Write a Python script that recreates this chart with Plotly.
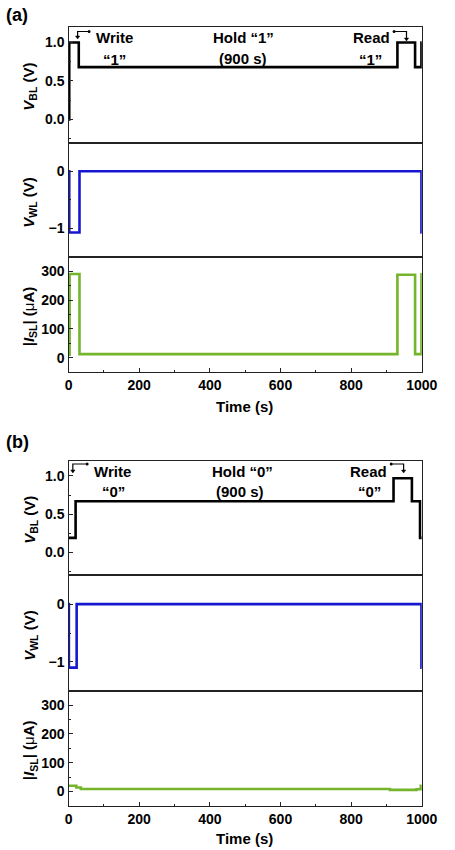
import plotly.graph_objects as go

W, H = 455, 850

# ---------------- data ----------------
# (a) write "1" / hold / read "1"
t_a_vbl = [0, 2, 29, 931, 981, 999, 1000]
v_a_vbl = [0.0, 1.0, 0.68, 1.0, 0.68, 1.0, 1.0]
t_a_vwl = [0, 2, 31, 999, 1000]
v_a_vwl = [0.0, -1.07, 0.0, -1.07, -1.07]
t_a_isl = [0, 3, 31, 931, 981, 999, 1000]
v_a_isl = [10, 291, 12, 288, 12, 290, 290]

# (b) write "0" / hold / read "0"
t_b_vbl = [0, 20, 920, 972, 995, 1000]
v_b_vbl = [0.19, 0.67, 0.97, 0.67, 0.19, 0.19]
t_b_vwl = [0, 1, 23, 999, 1000]
v_b_vwl = [0.0, -1.1, 0.0, -1.1, -1.1]
t_b_isl = [0, 22, 35, 910, 985, 997, 1000]
v_b_isl = [20, 14, 9, 6, 8, 20, 20]

x_ticks = [0, 200, 400, 600, 800, 1000]
vbl_ticks = [0.0, 0.5, 1.0]
vwl_ticks = [-1, 0]
isl_ticks = [0, 100, 200, 300]

BLACK = "#000000"
BLUE = "#1717d0"
GREEN = "#74b52b"
FONT = "Arial, Liberation Sans, sans-serif"

def px(x):
    return x / W

def py(y):
    return 1 - y / H

xdom = [px(67.5), px(437)]
# panel pixel boundaries (top, bottom)
panels = [
    (27, 142.7), (142.7, 257), (257, 372),
    (460.7, 575.3), (575.3, 690.7), (690.7, 806),
]

fig = go.Figure()

series = [
    (t_a_vbl, v_a_vbl, BLACK),
    (t_a_vwl, v_a_vwl, BLUE),
    (t_a_isl, v_a_isl, GREEN),
    (t_b_vbl, v_b_vbl, BLACK),
    (t_b_vwl, v_b_vwl, BLUE),
    (t_b_isl, v_b_isl, GREEN),
]
for i, (t, v, c) in enumerate(series):
    n = "" if i == 0 else str(i + 1)
    fig.add_trace(go.Scatter(x=t, y=v, mode="lines", line=dict(color=c, width=2.6, shape="hv"),
                             xaxis="x" + n, yaxis="y" + n, showlegend=False, hoverinfo="skip"))

tickfont = dict(family=FONT, size=14, color="black", weight="bold")
layout = dict(width=W, height=H, margin=dict(l=0, r=0, t=0, b=0),
              paper_bgcolor="white", plot_bgcolor="white", showlegend=False)

yranges = [[-0.3, 1.2], [-1.5, 0.5], [-50, 350]] * 2
yticks = [vbl_ticks, vwl_ticks, isl_ticks] * 2
yminor = [0.25, 0.5, 50] * 2
ytf = [".1f", "d", "d"] * 2

for i, (top, bot) in enumerate(panels):
    n = "" if i == 0 else str(i + 1)
    bottom = (i % 3 == 2)
    layout["xaxis" + n] = dict(
        domain=xdom, range=[0, 1000], anchor="y" + n,
        showline=True, mirror=True, linecolor="#222", linewidth=1.4,
        showgrid=False, zeroline=False,
        tickmode="array", tickvals=x_ticks if bottom else [],
        ticks="inside" if bottom else "", ticklen=4, tickwidth=1.2, tickcolor="#222",
        showticklabels=bottom, tickfont=tickfont,
        minor=dict(dtick=100, ticks="inside", ticklen=2, tickwidth=1, tickcolor="#222") if bottom else dict(ticks=""),
    )
    layout["yaxis" + n] = dict(
        domain=[py(bot), py(top)], range=yranges[i], anchor="x" + n,
        showline=True, mirror=True, linecolor="#222", linewidth=1.4,
        showgrid=False, zeroline=False,
        tickmode="array", tickvals=yticks[i], tickformat=ytf[i],
        ticks="inside", ticklen=4, tickwidth=1.2, tickcolor="#222",
        tickfont=tickfont,
        minor=dict(dtick=yminor[i], ticks="inside", ticklen=2, tickwidth=1, tickcolor="#222"),
    )

fig.update_layout(**layout)

ann = []
def text(x, y, s, size=15, **kw):
    ann.append(dict(x=px(x), y=py(y), xref="paper", yref="paper", text=s, showarrow=False,
                    font=dict(family=FONT, size=size, color="black"), xanchor="center", yanchor="middle", **kw))

text(14, 15, "<b>(a)</b>", size=18)
text(14, 442, "<b>(b)</b>", size=18)

ytitles = ["<b><i>V</i><sub>BL</sub> (V)</b>", "<b><i>V</i><sub>WL</sub> (V)</b>",
           "<b>|<i>I</i><sub>SL</sub>| (</b>\u03bc<b>A)</b>"]
for i, (top, bot) in enumerate(panels):
    text(27, (top + bot) / 2 + 2, ytitles[i % 3], size=15, textangle=-90)

text(252, 407, "<b>Time (s)</b>", size=15)
text(252, 838, "<b>Time (s)</b>", size=15)

# (a) labels
text(116, 38, "<b>Write</b>")
text(116, 59, "<b>\u201c1\u201d</b>")
text(250, 38, "<b>Hold \u201c1\u201d</b>")
text(250, 58, "<b>(900 s)</b>")
text(384, 38, "<b>Read</b>")
text(383, 59, "<b>\u201c1\u201d</b>")
# (b) labels
text(113, 471.5, "<b>Write</b>")
text(115, 491.5, "<b>\u201c0\u201d</b>")
text(249, 471.5, "<b>Hold \u201c0\u201d</b>")
text(247, 491, "<b>(900 s)</b>")
text(381, 471.5, "<b>Read</b>")
text(382, 491, "<b>\u201c0\u201d</b>")

fig.update_layout(annotations=ann)

# bracket arrows (decorations)
shapes = []
def bracket(xdot, xcorner, ytop, ybot):
    path = f"M {px(xdot)} {py(ytop)} L {px(xcorner)} {py(ytop)} L {px(xcorner)} {py(ybot - 2)}"
    shapes.append(dict(type="path", xref="paper", yref="paper", path=path,
                       line=dict(color="black", width=1.2)))
    hp = (f"M {px(xcorner - 2.2)} {py(ybot - 3)} L {px(xcorner + 2.2)} {py(ybot - 3)} "
          f"L {px(xcorner)} {py(ybot)} Z")
    shapes.append(dict(type="path", xref="paper", yref="paper", path=hp,
                       fillcolor="black", line=dict(color="black", width=0.5)))
    shapes.append(dict(type="circle", xref="paper", yref="paper",
                       x0=px(xdot - 1.5), x1=px(xdot + 1.5), y0=py(ytop + 1.5), y1=py(ytop - 1.5),
                       fillcolor="black", line=dict(color="black", width=0)))

bracket(89, 77, 31.5, 39)
bracket(408, 421, 31.5, 41)
bracket(87, 72, 464, 473)
bracket(405, 418, 464, 473)
fig.update_layout(shapes=shapes)

fig.write_html("out.html")
